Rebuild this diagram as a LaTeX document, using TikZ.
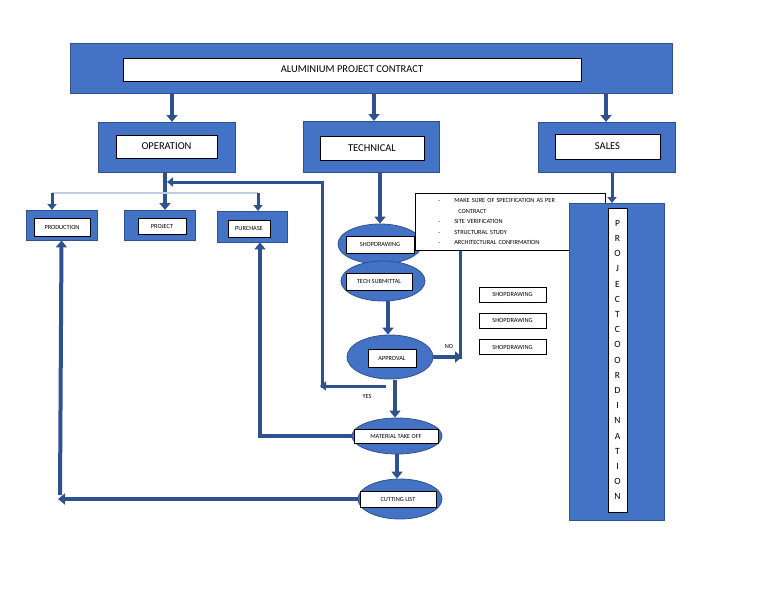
\documentclass[tikz,border=0pt]{standalone}
\usepackage{fontspec}
\setmainfont{Carlito}
\usetikzlibrary{arrows.meta, positioning, shapes.geometric}
\definecolor{flowblue}{RGB}{68, 114, 196}
\definecolor{flowedge}{RGB}{47, 82, 143}

\begin{document}
\begin{tikzpicture}[
        x=1pt, y=-1pt,
        panel/.style={draw=flowedge, fill=flowblue, line width=0.8pt},
        label/.style={draw=black, fill=white, line width=0.8pt, align=center, inner sep=0pt},
        stage/.style={ellipse, draw=flowedge, fill=flowblue, line width=0.8pt, inner sep=0pt},
        tiny/.style={font=\fontsize{6.3}{7}\selectfont},
        big/.style={font=\fontsize{10.5}{12}\selectfont},
        arrow/.style={draw=flowedge, line width=4pt, -{Triangle[length=7pt, width=11pt]}},
        thin arrow/.style={draw=flowedge, line width=3pt, -{Triangle[length=6pt, width=9pt]}},
        link/.style={draw=flowedge, line width=3.5pt}
    ]
        \useasboundingbox (0,0) rectangle (768,594);

        % Contract banner
        \node[panel, minimum width=602, minimum height=50, anchor=north west] (contract) at (70,43) {};
        \node[label, big, minimum width=458, minimum height=23] (contracttxt) at (352,69.5) {ALUMINIUM PROJECT CONTRACT};

        % Departments
        \node[panel, minimum width=137, minimum height=50] (operation) at (166.5,147) {};
        \node[label, big, minimum width=101, minimum height=23] at (166.5,146.5) {OPERATION};
        \node[panel, minimum width=136, minimum height=51] (technical) at (371,146.5) {};
        \node[label, big, minimum width=104, minimum height=24] at (372,148) {TECHNICAL};
        \node[panel, minimum width=137, minimum height=50] (sales) at (606.5,147) {};
        \node[label, big, minimum width=105, minimum height=25] at (607.5,146.5) {SALES};

        \coordinate (c1) at (172,93);
        \coordinate (c2) at (374,93);
        \coordinate (c3) at (606,93);
        \draw[arrow] (c1) -- (172,122);
        \draw[arrow] (c2) -- (374,121);
        \draw[arrow] (c3) -- (606,122);

        % Operation units
        \node[panel, minimum width=71, minimum height=30] (production) at (61.5,225) {};
        \node[label, tiny, minimum width=56, minimum height=18] at (62,227) {PRODUCTION};
        \node[panel, minimum width=71, minimum height=30] (project) at (159.5,225) {};
        \node[label, tiny, minimum width=48, minimum height=16] at (162,226) {PROJECT};
        \node[panel, minimum width=70, minimum height=31] (purchase) at (252,226.5) {};
        \node[label, tiny, minimum width=42, minimum height=17] at (249,228.5) {PURCHASE};

        \coordinate (split) at (165,193);
        \draw[arrow] (165,172) -- (165,210);
        \draw[draw=flowblue!35, line width=1.2pt] (52,193) -- (258,193);
        \draw[thin arrow] (52,193) -- (52,210);
        \draw[thin arrow] (258,193) -- (258,211);

        % Technical flow
        \node[stage, minimum width=84, minimum height=40] (shop) at (380,244) {};
        \node[label, tiny, minimum width=68, minimum height=17] at (380,244.5) {SHOPDRAWING};
        \node[stage, minimum width=84, minimum height=40] (submittal) at (383,281) {};
        \node[label, tiny, minimum width=66, minimum height=17] at (379,281.5) {TECH SUBMITTAL};
        \node[stage, minimum width=86, minimum height=44] (approval) at (390,357) {};
        \node[label, tiny, minimum width=48, minimum height=18] at (392,358) {APPROVAL};
        \node[stage, minimum width=90, minimum height=36] (takeoff) at (397,436) {};
        \node[label, tiny, minimum width=84, minimum height=14] at (396,436) {MATERIAL TAKE OFF};
        \node[stage, minimum width=84, minimum height=40] (cutting) at (400,499) {};
        \node[label, tiny, minimum width=76, minimum height=16] at (398,499) {CUTTING LIST};

        \draw[arrow] (380,172) -- (shop.north);
        \draw[arrow] (388,301) -- (approval.north -| 388,0);
        \draw[arrow] (395,380) -- (takeoff.north -| 395,0);
        \draw[arrow] (397,454) -- (cutting.north -| 397,0);

        % YES loop back to operation
        \coordinate (yes) at (320,386);
        \draw[thin arrow] (386,386) -- (yes);
        \node[tiny, anchor=north] at (367,391) {YES};
        \draw[link, line width=3pt] (322,387.5) -- (322,182);
        \draw[thin arrow] (323.5,182) -- (167,182);

        % NO branch
        \coordinate (no) at (462,357);
        \draw[link, line width=3pt] (460,358.5) -- (460,250);
        \draw[arrow] (approval.east) -- (no);
        \node[tiny] at (449,346) {NO};

        % Returns to units
        \draw[link] (takeoff.west) -- (258.25,436);
        \draw[arrow] (260,437.75) -- (purchase.south -| 260,0);
        \draw[arrow] (cutting.west) -- (58,499);
        \draw[arrow] (60,495) -- (production.south);

        % Checklist
        \node[label, font=\fontsize{6.3}{10.5}\selectfont, minimum width=190, minimum height=57, align=left, anchor=north west, text width=188] (notes) at (415,193) {%
            \hspace*{22pt}-\hspace{14pt}MAKE SURE OF SPECIFICATION AS PER\\
            \hspace*{42pt}CONTRACT\\
            \hspace*{22pt}-\hspace{14pt}SITE VERIFICATION\\
            \hspace*{22pt}-\hspace{14pt}STRUCTURAL STUDY\\
            \hspace*{22pt}-\hspace{14pt}ARCHITECTURAL CONFIRMATION};

        % Shop drawing list
        \node[label, tiny, minimum width=67, minimum height=15] (sd1) at (512.5,294.5) {SHOPDRAWING};
        \node[label, tiny, minimum width=67, minimum height=15] (sd2) at (512.5,320.5) {SHOPDRAWING};
        \node[label, tiny, minimum width=67, minimum height=15] (sd3) at (512.5,347) {SHOPDRAWING};

        % Project coordination
        \node[panel, minimum width=95, minimum height=317] (coord) at (616.5,361.5) {};
        \node[label, minimum width=19, minimum height=304, font=\fontsize{9.5}{15.2}\selectfont] at (617.5,360) {%
            P\\R\\O\\J\\E\\C\\T\\C\\O\\O\\R\\D\\I\\N\\A\\T\\I\\O\\N};
        \draw[thin arrow] (612,172) -- (612,203);
    \end{tikzpicture}
\end{document}
